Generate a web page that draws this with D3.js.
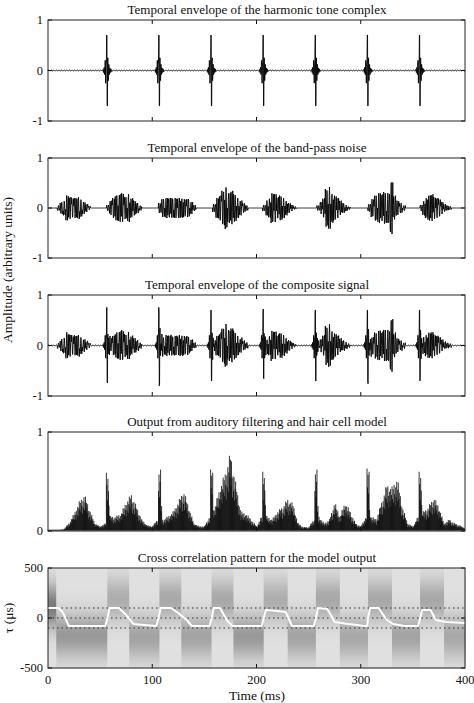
<!DOCTYPE html>
<html><head><meta charset="utf-8">
<script src="https://cdn.jsdelivr.net/npm/d3@7"></script>
<style>body{margin:0;background:#fff}text{font-family:"Liberation Serif",serif;fill:#111}</style>
</head><body><svg id="c" width="474" height="703"></svg>
<script>
// ---- data ----
var titles = ["Temporal envelope of the harmonic tone complex",
  "Temporal envelope of the band-pass noise",
  "Temporal envelope of the composite signal",
  "Output from auditory filtering and hair cell model",
  "Cross correlation pattern for the model output"];
var clickTimes = [57, 107, 157, 207, 257, 307, 357];
// click waveform, one value per 0.5 ms from -4 ms to +4 ms
var clickShape = [0.02,-0.04,0.06,-0.08,0.2,-0.25,0.15,0.7,-0.7,0.25,-0.2,0.12,-0.08,0.05,-0.04,0.03,-0.02];
var ripple = 0.012;
var noiseBursts = [
  {c: 25, w: 32, amps: [0.05,0.12,-0.15,0.25,-0.22,0.2,-0.2,0.22,-0.18,0.12,-0.08,0.04]},
  {c: 73, w: 34, amps: [0.06,0.15,-0.2,0.25,-0.28,0.3,-0.22,0.28,-0.2,0.15,-0.1,0.05]},
  {c: 124, w: 36, amps: [0.1,0.18,-0.2,0.2,-0.2,0.2,-0.2,0.2,-0.18,0.18,-0.12,0.06]},
  {c: 175, w: 34, amps: [0.08,0.2,-0.25,0.35,-0.42,0.3,-0.35,0.28,-0.2,0.15,-0.1,0.05]},
  {c: 222, w: 32, amps: [0.06,0.15,-0.2,0.3,-0.28,0.22,-0.25,0.2,-0.15,0.1,-0.06,0.03]},
  {c: 274, w: 32, amps: [0.05,0.12,-0.2,0.38,-0.42,0.3,-0.25,0.2,-0.15,0.1,-0.06,0.03]},
  {c: 325, w: 36, amps: [0.08,0.18,-0.25,0.3,-0.28,0.32,-0.3,-0.52,0.25,0.15,-0.1,0.05]},
  {c: 372, w: 30, amps: [0.06,0.15,-0.2,0.25,-0.28,0.22,-0.2,0.18,-0.12,0.08,-0.05,0.03]}
];
// hair cell output envelope, one value per 5 ms from 0 to 400 ms
var hairEnv = [0,0.01,0.01,0.02,0.08,0.18,0.3,0.38,0.22,0.08,0.05,0.08,0.15,0.15,0.18,0.3,0.38,0.25,0.12,0.06,
  0.05,0.12,0.12,0.15,0.2,0.3,0.42,0.25,0.08,0.05,0.05,0.15,0.25,0.45,0.6,0.8,0.5,0.2,0.18,0.12,
  0.05,0.15,0.15,0.12,0.2,0.25,0.33,0.28,0.08,0.04,0.04,0.12,0.15,0.08,0.12,0.3,0.15,0.3,0.2,0.08,
  0.05,0.15,0.15,0.12,0.3,0.48,0.45,0.55,0.25,0.08,0.05,0.15,0.2,0.25,0.35,0.25,0.08,0.12,0.08,0.06,0.03];
var clickPeak = [0.62, 0.62, 0.62, 0.63, 0.62, 0.63, 0.63];
var jitter = [1,0.7,0.9,0.6,0.95,0.75,0.5,0.85,0.65,0.92,0.55,0.8];
// cross-correlation shading: [start ms, end ms, tau centre us, darkness]
var heatCols = [[0,8,120,0.4],[8,57,-170,0.28],[57,78,190,0.2],[78,107,-190,0.24],[107,128,190,0.22],[128,157,-180,0.24],
  [157,178,180,0.22],[178,207,-180,0.28],[207,230,180,0.2],[230,257,-180,0.24],[257,280,190,0.22],[280,307,-190,0.22],
  [307,330,180,0.22],[330,357,-180,0.24],[357,380,180,0.22],[380,400,-180,0.22]];
var tauLine = [[0,100],[10,100],[14,60],[20,-80],[55,-80],[57,0],[59,100],[68,100],[75,30],[82,-60],[92,-70],[104,-80],
  [106,0],[108,100],[118,100],[125,50],[133,-20],[138,-80],[155,-80],[157,0],[159,100],[165,100],[172,-30],[177,-80],
  [205,-80],[207,0],[209,80],[220,70],[228,60],[234,-80],[255,-80],[257,0],[259,100],[268,90],[275,-40],[288,-60],
  [297,-70],[303,-80],[306,-80],[307,0],[309,100],[317,100],[325,-20],[331,-60],[342,-80],[355,-80],[357,0],[359,80],
  [367,80],[372,-20],[382,-40],[400,-50]];
var xTicks = [0, 100, 200, 300, 400];

// ---- layout ----
var svg = d3.select("#c");
var x = d3.scaleLinear().domain([0, 400]).range([48, 465]);
var panels = [{top: 20, bot: 121}, {top: 158, bot: 258}, {top: 295, bot: 396}, {top: 432, bot: 531}, {top: 568, bot: 668}];
var ts = d3.range(0, 400.001, 0.25);

function harm(t) {
  var v = ripple * Math.sin(2 * Math.PI * t / 2.5);
  clickTimes.forEach(function(c) {
    var i = Math.round((t - c) / 0.5) + 8;
    if (i >= 0 && i < clickShape.length) v = clickShape[i];
  });
  return v;
}
function noise(t) {
  var v = 0;
  noiseBursts.forEach(function(b) {
    var s = b.c - b.w / 2;
    if (t >= s && t < s + b.w) {
      var i = Math.floor((t - s) / (b.w / b.amps.length));
      v = Math.abs(b.amps[i]) * Math.sin(2 * Math.PI * t / 1.6) * (b.amps[i] < 0 ? -1 : 1);
    }
  });
  return v;
}

function frame(p, yTicks, y, labels) {
  var g = svg.append("g");
  g.append("text").attr("x", 257).attr("y", p.top - 6).attr("text-anchor", "middle").attr("font-size", 13).text(titles[panels.indexOf(p)]);
  xTicks.slice(1, -1).forEach(function(t) {
    g.append("line").attr("x1", x(t)).attr("x2", x(t)).attr("y1", p.bot).attr("y2", p.bot - 4).attr("stroke", "#111");
    g.append("line").attr("x1", x(t)).attr("x2", x(t)).attr("y1", p.top).attr("y2", p.top + 4).attr("stroke", "#111");
  });
  yTicks.forEach(function(v) {
    g.append("text").attr("x", 43).attr("y", y(v) + 4).attr("text-anchor", "end").attr("font-size", 12.5).text(v);
    g.append("line").attr("x1", 48).attr("x2", 52).attr("y1", y(v)).attr("y2", y(v)).attr("stroke", "#111");
    g.append("line").attr("x1", 465).attr("x2", 461).attr("y1", y(v)).attr("y2", y(v)).attr("stroke", "#111");
  });
  g.append("rect").attr("x", 48).attr("y", p.top).attr("width", 417).attr("height", p.bot - p.top)
    .attr("fill", "none").attr("stroke", "#222").attr("stroke-width", 1);
  if (labels) xTicks.forEach(function(t) {
    g.append("text").attr("x", x(t)).attr("y", p.bot + 16).attr("text-anchor", "middle").attr("font-size", 12.5).text(t);
  });
}

var fns = [harm, noise, function(t) { return harm(t) + noise(t); }];
fns.forEach(function(f, k) {
  var p = panels[k];
  var y = d3.scaleLinear().domain([-1, 1]).range([p.bot, p.top]);
  svg.append("path").attr("d", d3.line().x(function(t) { return x(t); }).y(function(t) { return y(f(t)); })(ts))
    .attr("fill", "none").attr("stroke", "#000").attr("stroke-width", 0.9);
  frame(p, [1, 0, -1], y, false);
});

// hair cell panel
(function() {
  var p = panels[3];
  var y = d3.scaleLinear().domain([0, 1]).range([p.bot, p.top]);
  d3.range(0, 400, 0.5).forEach(function(t, i) {
    var k = Math.floor(t / 5), e = hairEnv[k], e2 = hairEnv[Math.min(hairEnv.length - 1, k + 1)];
    var env = e + (e2 - e) * ((t % 5) / 5);
    clickTimes.forEach(function(c, j) {
      var d = t - c;
      if (d >= -1 && d <= 2) env = Math.max(env, clickPeak[j] * (d <= 1 ? 1 : 0.45));
    });
    var h = env * jitter[i % jitter.length];
    svg.append("line").attr("x1", x(t)).attr("x2", x(t)).attr("y1", y(0.005)).attr("y2", y(Math.max(0.012, h)))
      .attr("stroke", "#000").attr("stroke-width", 0.8);
  });
  frame(p, [1, 0], y, false);
})();

// cross-correlation panel
(function() {
  var p = panels[4];
  var y = d3.scaleLinear().domain([-500, 500]).range([p.bot, p.top]);
  var taus = d3.range(-500, 500, 10);
  heatCols.forEach(function(c) {
    taus.forEach(function(tau) {
      var d = (tau + 5 - c[2]) / 220;
      var g = 0.88 - c[3] * Math.exp(-d * d);
      svg.append("rect").attr("x", x(c[0])).attr("width", x(c[1]) - x(c[0]) + 0.5)
        .attr("y", y(tau + 10)).attr("height", y(tau) - y(tau + 10) + 0.5)
        .attr("fill", d3.rgb(g * 255, g * 255, g * 255));
    });
  });
  [100, 0, -100].forEach(function(v) {
    svg.append("line").attr("x1", 48).attr("x2", 465).attr("y1", y(v)).attr("y2", y(v))
      .attr("stroke", "#333").attr("stroke-width", 1).attr("stroke-dasharray", "1.5,3");
  });
  svg.append("path").attr("d", d3.line().x(function(d) { return x(d[0]); }).y(function(d) { return y(d[1]); })(tauLine))
    .attr("fill", "none").attr("stroke", "#fff").attr("stroke-width", 2).attr("stroke-linejoin", "round");
  frame(p, [500, 0, -500], y, true);
  svg.append("text").attr("x", 257).attr("y", 700).attr("text-anchor", "middle").attr("font-size", 13.5).text("Time (ms)");
  svg.append("text").attr("transform", "translate(13,618) rotate(-90)").attr("text-anchor", "middle").attr("font-size", 13.5).text("τ (μs)");
})();
svg.append("text").attr("transform", "translate(12,270) rotate(-90)").attr("text-anchor", "middle").attr("font-size", 13.5).text("Amplitude (arbitrary units)");
</script></body></html>
